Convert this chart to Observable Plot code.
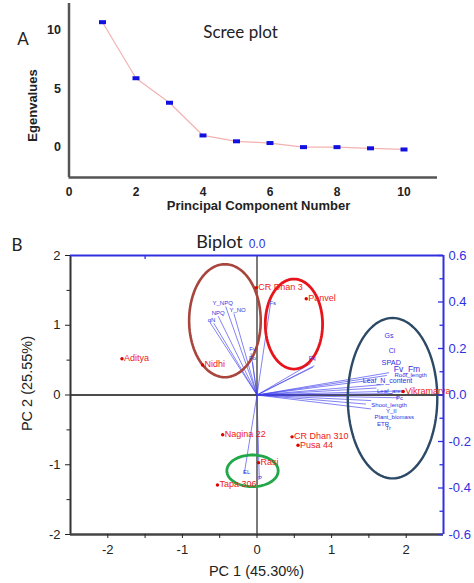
<!DOCTYPE html>
<html><head><meta charset="utf-8">
<script src="https://cdn.jsdelivr.net/npm/d3@7"></script>
<script src="https://cdn.jsdelivr.net/npm/@observablehq/plot@0.6"></script>
<style>
body{margin:0;background:#fff;}
#wrap{position:relative;width:474px;height:583px;overflow:hidden;background:#fff}
#scree{position:absolute;left:0;top:0}
#biplot{position:absolute;left:0;top:220px}
</style></head><body><div id="wrap"><div id="scree"></div><div id="biplot"></div></div>
<script>
// ---------- Scree plot data ----------
const pcNumber = [1, 2, 3, 4, 5, 6, 7, 8, 9, 10];
const eigenvalues = [10.7, 5.9, 3.8, 1.0, 0.5, 0.35, 0.0, 0.0, -0.1, -0.2];
const screeXTicks = [0, 2, 4, 6, 8, 10];
const screeYTicks = [0, 5, 10];

// ---------- Biplot data ----------
const sampleNames = ["Aditya", "Nidhi", "CR Dhan 3", "Panvel", "Vikramarya", "Nagina 22", "CR Dhan 310", "Pusa 44", "Rasi", "Tapa 306"];
const samplePC1 = [-1.81, -0.73, -0.01, 0.66, 1.96, -0.46, 0.47, 0.55, 0.02, -0.53];
const samplePC2 = [0.52, 0.43, 1.54, 1.38, 0.05, -0.57, -0.60, -0.72, -0.97, -1.29];

const vectorX = [-0.63, -0.58, -0.52, -0.42, -0.31, -0.08, -0.06, 0.18, 0.72, 0.77, 0.75, 1.77, 1.74, 1.52, 1.70, 1.60, 1.97, 1.82, 1.90, 1.53, 1.46, 1.53, -0.17, 0.03];
const vectorY = [1.04, 1.03, 1.13, 1.27, 1.17, 0.60, 0.47, 1.30, 0.45, 0.42, 0.40, 0.32, 0.28, 0.21, 0.15, 0.10, 0.06, 0.02, -0.04, -0.08, -0.13, -0.20, -1.12, -1.19];

const loadingNames = ["Y_NPQ", "NPQ", "Y_NO", "qN", "Fv", "Fo", "Fs", "Fq", "Gs", "Ci", "SPAD", "Fv_Fm", "Root_length", "Leaf_N_content", "Leaf_area", "Pc", "Shoot_length", "Y_II", "Plant_biomass", "ETR", "Tr", "EL", "P"];
const loadingX = [-0.46, -0.52, -0.26, -0.61, -0.06, -0.06, 0.21, 0.74, 1.77, 1.81, 1.80, 2.01, 2.06, 1.75, 1.79, 1.91, 1.77, 1.80, 1.84, 1.69, 1.76, -0.14, 0.04];
const loadingY = [1.32, 1.18, 1.22, 1.07, 0.66, 0.53, 1.32, 0.53, 0.85, 0.64, 0.46, 0.37, 0.28, 0.21, 0.06, -0.04, -0.14, -0.23, -0.31, -0.41, -0.48, -1.11, -1.19];

const groupNames = ["brown", "red", "slate", "green"];
const groupCX = [-0.43, 0.495, 1.817, -0.06];
const groupCY = [1.065, 1.017, -0.046, -1.087];
const groupRX = [0.48, 0.384, 0.60, 0.344];
const groupRY = [0.81, 0.645, 1.15, 0.227];

const leftTicks = [-2, -1, 0, 1, 2];
const leftMinor = [-1.5, -0.5, 0.5, 1.5];
const bottomTicks = [-2, -1, 0, 1, 2];
const bottomMinor = [-1.5, -0.5, 0.5, 1.5];
const rightTicks = [-0.6, -0.4, -0.2, 0.0, 0.2, 0.4, 0.6];
const rightMinor = [-0.5, -0.3, -0.1, 0.1, 0.3, 0.5];
const topTicks = [0.0];
const topMinor = [-1.5];
const loadingAxisMax = 0.6; // right axis top value

// ---------- tables ----------
const scree = pcNumber.map((pc, i) => ({pc, ev: eigenvalues[i]}));
const samples = sampleNames.map((name, i) => ({name, x: samplePC1[i], y: samplePC2[i]}));
const vectors = vectorX.map((x, i) => ({x, y: vectorY[i]}));
const loadings = loadingNames.map((name, i) => ({name, x: loadingX[i], y: loadingY[i]}));

const BLUE = "#3030e0";
const SANS = "'Liberation Sans', Arial, sans-serif";
const HUM = "Lato, 'Open Sans', sans-serif";

// ---------- Scree plot ----------
const square = {draw(ctx) { ctx.rect(-3.5, -2, 7, 4); }};
const sML = 68.5, sMT = 3;
const T = (s, px, py, mt, ml, o) => Plot.text([s], {text: d => d, frameAnchor: "top-left", dx: px - ml, dy: py - mt, textAnchor: "middle", lineAnchor: "middle", fill: "#222", ...o});
const screePlot = Plot.plot({
  width: 474, height: 220,
  marginLeft: sML, marginRight: 37, marginTop: sMT, marginBottom: 43,
  style: {fontFamily: SANS, background: "transparent", overflow: "visible"},
  x: {domain: [0, 11]},
  y: {domain: [-2.6, 12.3]},
  marks: [
    Plot.axisX({ticks: screeXTicks, tickSize: 0, tickPadding: 9.5, fontWeight: "bold", fontSize: 12, label: null, color: "#222"}),
    Plot.axisY({ticks: screeYTicks, tickSize: 0, tickPadding: 8, fontWeight: "bold", fontSize: 12.5, label: null, color: "#222"}),
    Plot.ruleX([0], {stroke: "#555", strokeWidth: 2.5}),
    Plot.ruleY([-2.6], {stroke: "#555", strokeWidth: 2.5}),
    Plot.line(scree, {x: "pc", y: "ev", stroke: "#f3b2b2", strokeWidth: 1.2}),
    Plot.dot(scree, {x: "pc", y: "ev", symbol: square, fill: "#1010e0", stroke: "none"}),
    T("Scree plot", 240, 32, sMT, sML, {fontFamily: HUM, fontSize: 17}),
    T("A", 22.5, 39, sMT, sML, {fontFamily: HUM, fontSize: 17}),
    T("Egenvalues", 32, 105, sMT, sML, {rotate: -90, fontWeight: "bold", fontSize: 13}),
    T("Principal Component Number", 258, 205.5, sMT, sML, {fontWeight: "bold", fontSize: 13})
  ]
});
document.getElementById("scree").appendChild(screePlot);

// ---------- Biplot ----------
const bML = 70, bMR = 31, bMT = 35, bMB = 49, bW = 474, bH = 363, bTop = 220;
const frameW = bW - bML - bMR, frameH = bH - bMT - bMB;
const k = 2 / loadingAxisMax; // right-axis value -> PC2 units

const ellipseStyles = {
  brown: {stroke: "#a8453d", strokeWidth: 2.6},
  red: {stroke: "#e8141c", strokeWidth: 2.8},
  slate: {stroke: "#2c4a66", strokeWidth: 2.4},
  green: {stroke: "#22a848", strokeWidth: 2.8}
};
const ellipseMarks = groupNames.map((g, i) => {
  const pts = d3.range(97).map(j => {
    const t = j / 96 * 2 * Math.PI;
    return {x: groupCX[i] + groupRX[i] * Math.cos(t), y: groupCY[i] + groupRY[i] * Math.sin(t)};
  });
  return Plot.line(pts, {x: "x", y: "y", ...ellipseStyles[g]});
});

const labelSize = n => ({Fv_Fm: 8.5, SPAD: 7.3, Leaf_N_content: 7, Gs: 7, Ci: 7}[n] || 6);

const biplot = Plot.plot({
  width: bW, height: bH,
  marginLeft: bML, marginRight: bMR, marginTop: bMT, marginBottom: bMB,
  style: {fontFamily: SANS, background: "transparent", overflow: "visible"},
  x: {domain: [-2.5, 2.5]},
  y: {domain: [-2, 2]},
  marks: [
    // zero lines
    Plot.ruleY([0], {stroke: "#111", strokeWidth: 1.6}),
    Plot.ruleX([0], {stroke: "#222", strokeWidth: 1.2}),
    // loading vectors
    Plot.link(vectors, {x1: d => 0, y1: d => 0, x2: "x", y2: "y", stroke: "#4040ee", strokeOpacity: 0.65, strokeWidth: 1}),
    ...ellipseMarks,
    Plot.text(loadings, {x: "x", y: "y", text: "name", fill: BLUE, fontSize: d => labelSize(d.name), textAnchor: "middle"}),
    // samples
    Plot.dot(samples, {x: "x", y: "y", r: 1.7, fill: "#dd0000"}),
    Plot.text(samples, {x: "x", y: "y", text: "name", textAnchor: "start", dx: 2, dy: -0.5, fill: "#ee2020", fontSize: 9}),
    // frame lines
    Plot.ruleX([-2.5], {stroke: "#333", strokeWidth: 2}),
    Plot.ruleY([-2], {stroke: "#444", strokeWidth: 2.5}),
    Plot.ruleY([2], {stroke: BLUE, strokeWidth: 2}),
    Plot.ruleX([2.5], {stroke: BLUE, strokeWidth: 2}),
    // left axis
    Plot.axisY({anchor: "left", ticks: leftTicks, tickSize: 5, tickPadding: 5, tickFormat: d => String(d), fontSize: 13, label: null, color: "#222"}),
    Plot.axisY({anchor: "left", ticks: leftMinor, tickSize: 3.5, tickFormat: () => "", label: null, color: "#222"}),
    // bottom axis
    Plot.axisX({anchor: "bottom", ticks: bottomTicks, tickSize: 4, tickPadding: 6, tickFormat: d => String(d), fontSize: 13, label: null, color: "#222"}),
    Plot.axisX({anchor: "bottom", ticks: bottomMinor, tickSize: 4, tickFormat: () => "", label: null, color: "#222"}),
    // right axis (inward ticks)
    Plot.tickY(rightTicks, {y: d => d * k, insetLeft: frameW - 5, stroke: BLUE, strokeWidth: 1.3}),
    Plot.tickY(rightMinor, {y: d => d * k, insetLeft: frameW - 3.5, stroke: BLUE, strokeWidth: 1.3}),
    Plot.axisY({anchor: "right", ticks: rightTicks.map(d => d * k), tickSize: 0, tickPadding: 5, tickFormat: d => (d / k).toFixed(1), fontSize: 13, label: null, color: BLUE}),
    // top axis
    Plot.tickX(topMinor, {x: d => d, insetBottom: frameH - 4, stroke: BLUE, strokeWidth: 1.3}),
    Plot.axisX({anchor: "top", ticks: topTicks, tickSize: 0, tickPadding: 8, tickFormat: d => d.toFixed(1), fontSize: 12, label: null, color: BLUE}),
    // titles
    T("Biplot", 219, 242 - bTop, bMT, bML, {fontFamily: HUM, fontSize: 18}),
    T("B", 16.5, 245 - bTop, bMT, bML, {fontFamily: HUM, fontSize: 17}),
    T("PC 1 (45.30%)", 256, 571 - bTop, bMT, bML, {fontSize: 14.5}),
    T("PC 2 (25.55%)", 27, 383 - bTop, bMT, bML, {rotate: -90, fontSize: 14.5})
  ]
});
document.getElementById("biplot").appendChild(biplot);
</script></body></html>
